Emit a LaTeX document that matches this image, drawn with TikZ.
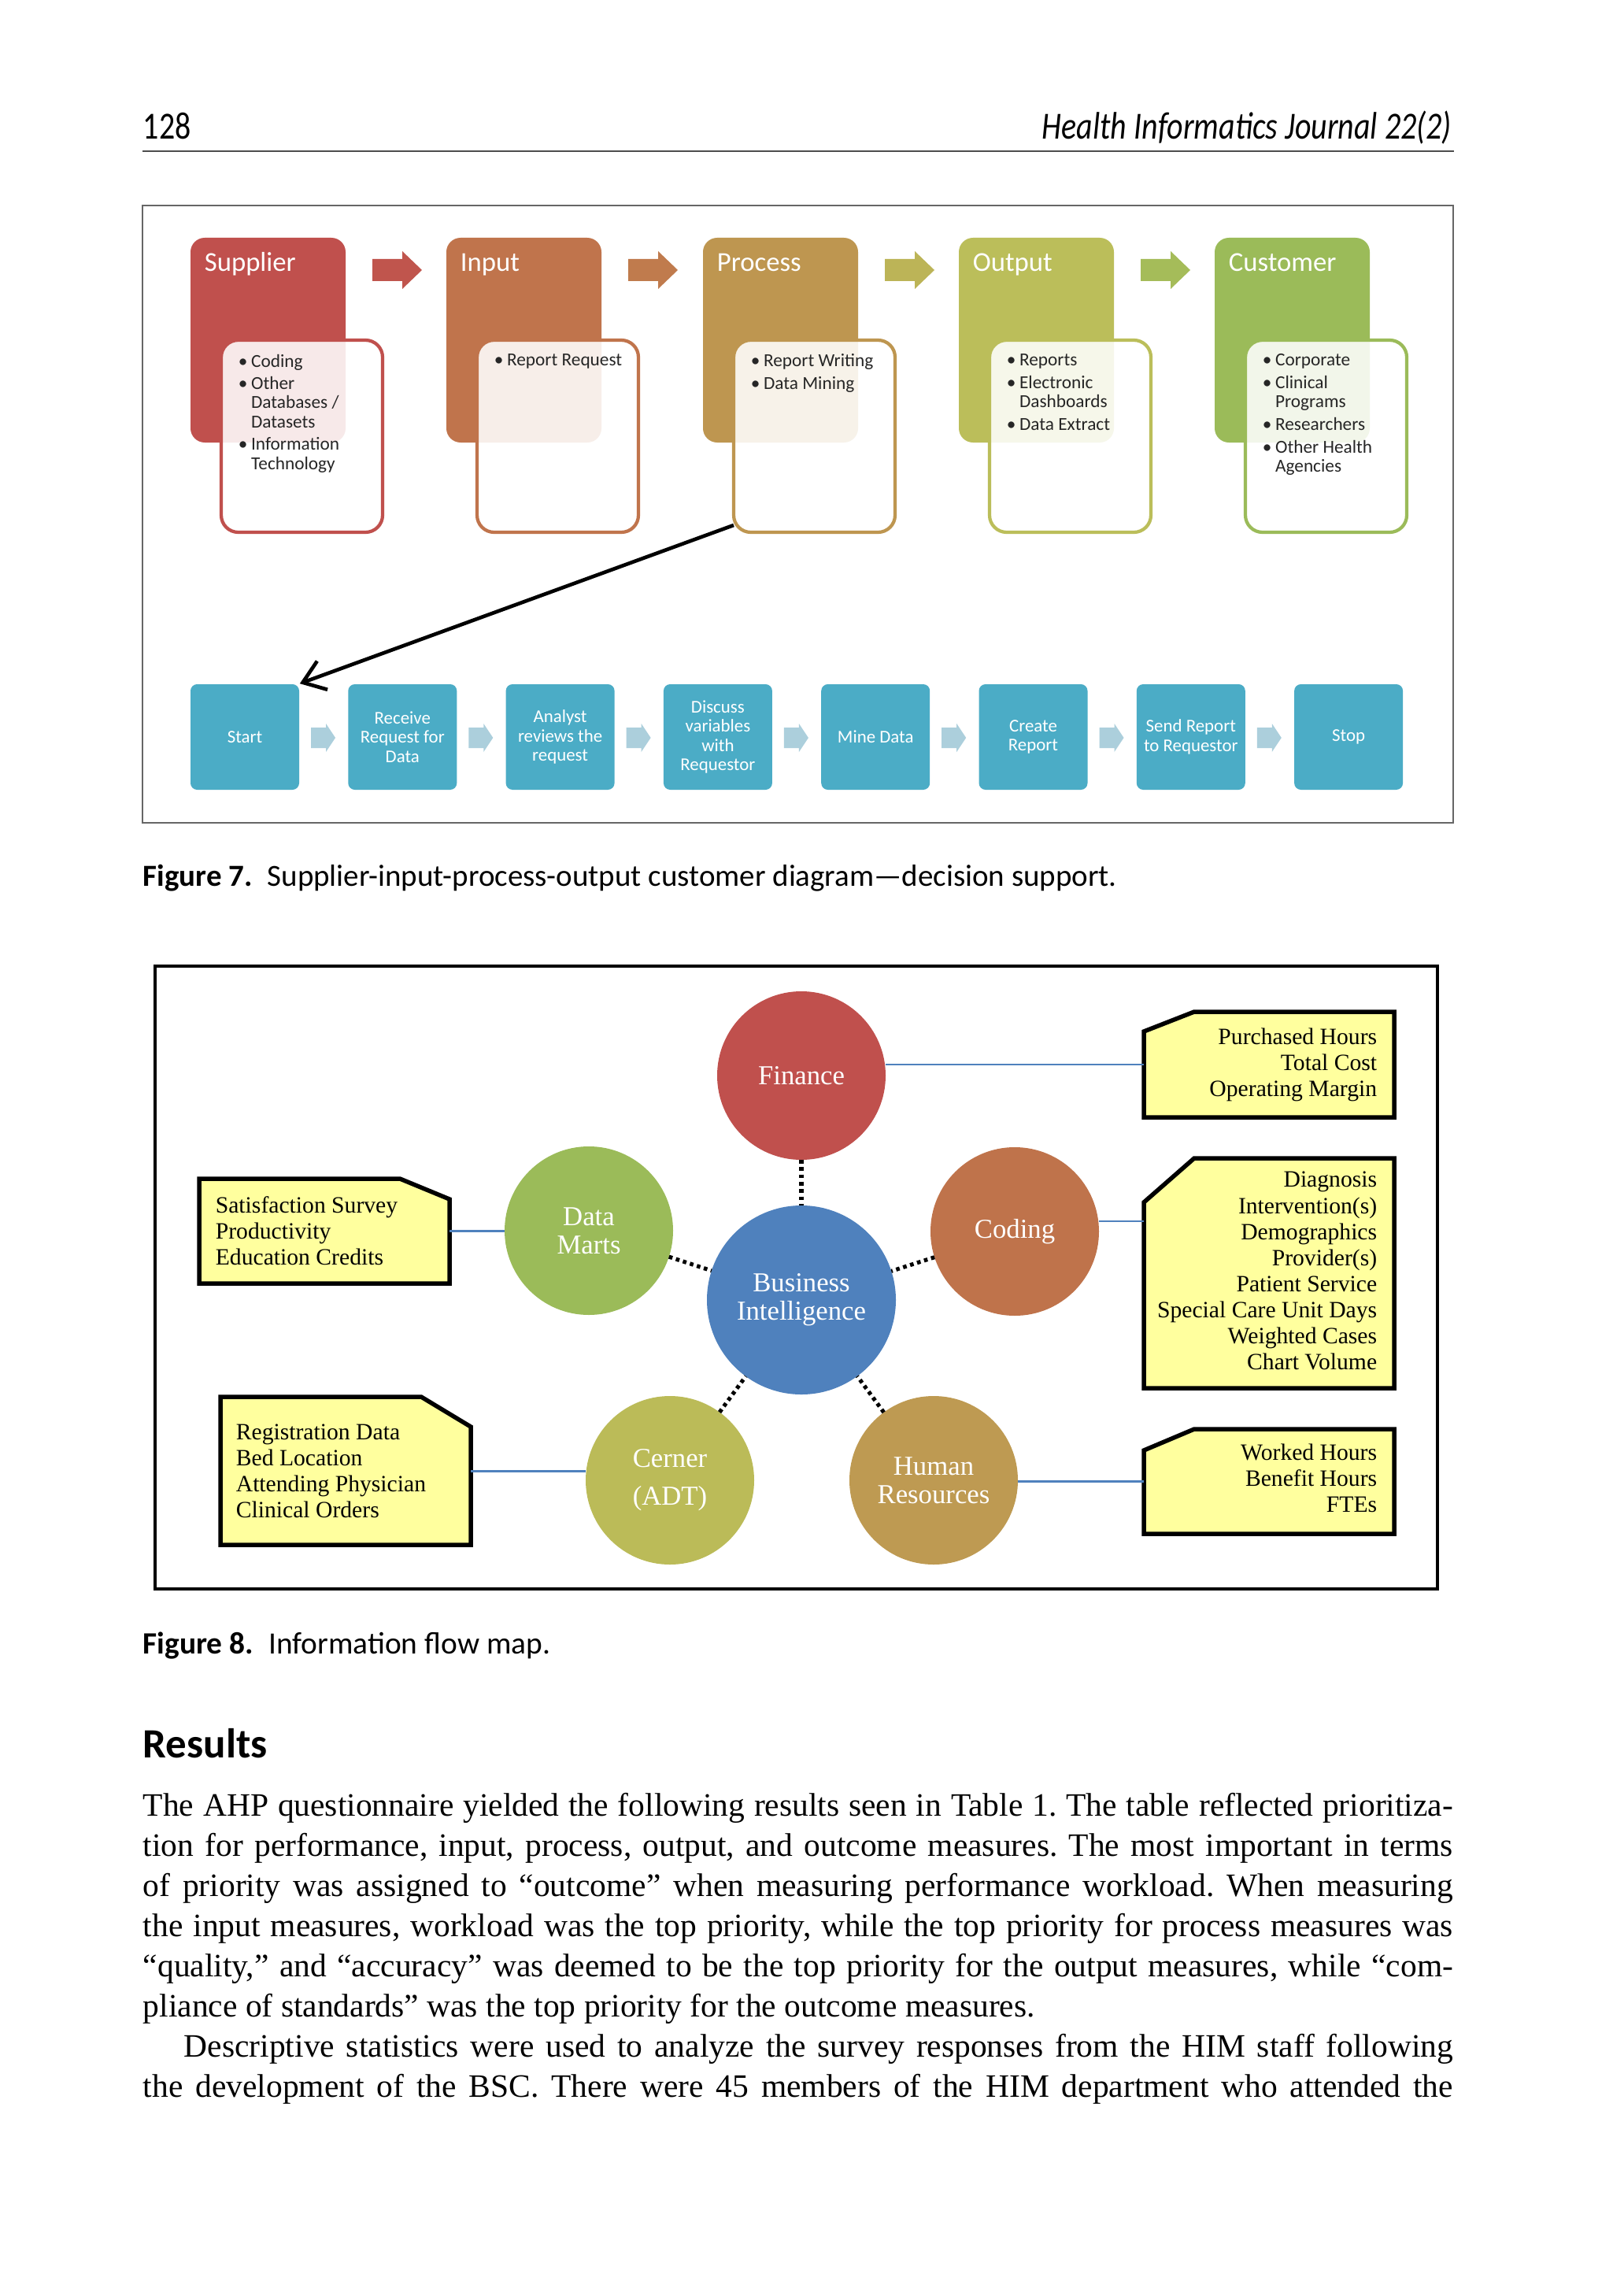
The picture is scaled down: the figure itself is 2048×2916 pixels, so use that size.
\documentclass[tikz,border=0pt]{standalone}
\usepackage{fontspec}
\setmainfont{Liberation Serif}
\newfontfamily\calfont{Carlito}
\newfontfamily\gill{Carlito}
\newfontfamily\gillc{Carlito}[FakeStretch=0.82]
\usetikzlibrary{arrows.meta}
\definecolor{csup}{HTML}{C0504D}
\definecolor{cinp}{HTML}{C0744C}
\definecolor{cpro}{HTML}{BE9650}
\definecolor{cout}{HTML}{BBBE5A}
\definecolor{ccus}{HTML}{9BBB59}
\definecolor{cteal}{HTML}{4BACC6}
\definecolor{sarrow}{HTML}{ACCFDC}
\definecolor{cfin}{HTML}{C0504D}
\definecolor{cdm}{HTML}{9BBB59}
\definecolor{ccod}{HTML}{BF734B}
\definecolor{cbi}{HTML}{4F81BD}
\definecolor{ccer}{HTML}{BBBB58}
\definecolor{chr}{HTML}{BE9A52}
\definecolor{yfill}{HTML}{FFFF9E}
\definecolor{blin}{HTML}{4F81BD}
\def\PX{0.083mm}
\newcommand\bul[1]{\makebox[1.35mm][l]{\textbullet}#1}
\newcommand\cont[1]{\hspace*{1.35mm}#1}
\frenchspacing
\begin{document}
\begin{tikzpicture}[x=0.083mm, y=-0.083mm,
  darkbox/.style={fill=#1, rounded corners=1.5mm, anchor=north west, minimum width=197*\PX, minimum height=260*\PX, inner sep=0, outer sep=0},
  whitebox/.style={draw=#1, line width=1pt, fill=white, fill opacity=0.88, rounded corners=1.8mm, anchor=north west, minimum width=205*\PX, minimum height=244*\PX, inner sep=0, outer sep=0},
  ftitle/.style={anchor=base west, inner sep=0, text=white, font=\calfont\fontsize{8.2}{9}\selectfont},
  blist/.style={anchor=north west, inner sep=0, align=left, text=black!85, font=\calfont\fontsize{5.5}{5.7}\selectfont},
  tbox/.style={fill=cteal, rounded corners=0.7mm, minimum width=138*\PX, minimum height=134*\PX, inner sep=0, text=white, align=center, font=\calfont\fontsize{5.4}{5.8}\selectfont},
  circ/.style={circle, fill=#1, minimum size=214*\PX, inner sep=0, outer sep=0, text=white, align=center, font=\fontsize{8.2}{8.4}\selectfont},
  yarea/.style={inner sep=0, outer sep=0},
  ybox/.style={fill=yfill, draw=black, line width=1.3pt, line join=miter},
  ytxt/.style={inner sep=0, font=\fontsize{7}{7.8}\selectfont},
  blue line/.style={draw=blin, line width=0.7pt},
  dotline/.style={draw=black, line width=1.2pt, dash pattern=on 1.1pt off 1.1pt},
  body/.style={anchor=base west, inner sep=0, font=\fontsize{9.8}{12}\selectfont}
]
\path[use as bounding box, fill=white] (0,0) rectangle (2048,2916);

% ---------- header ----------
\node[anchor=base west, inner sep=0, font=\gillc\fontsize{11.5}{12}\selectfont] (pg) at (181,177) {128};
\node[anchor=base east, inner sep=0, font=\gillc\itshape\fontsize{11.5}{12}\selectfont] (jn) at (1845,177) {Health Informatics Journal 22(2)};
\draw[line width=0.6pt, black!70] (181,192) -- (1847,192);

% ---------- Figure 7 ----------
\draw[line width=0.6pt, black!60] (181,261) rectangle (1846,1045);

\node[darkbox=csup] (sup) at (242,302) {};
\node[darkbox=cinp] (inp) at (567,302) {};
\node[darkbox=cpro] (pro) at (893,302) {};
\node[darkbox=cout] (out) at (1218,302) {};
\node[darkbox=ccus] (cus) at (1543,302) {};

\node[ftitle] (supt) at (259,345) {Supplier};
\node[ftitle] (inpt) at (584,345) {Input};
\node[ftitle] (prot) at (910,345) {Process};
\node[ftitle] (outt) at (1235,345) {Output};
\node[ftitle] (cust) at (1560,345) {Customer};

\node[whitebox=csup] (supw) at (281,432) {};
\node[whitebox=cinp] (inpw) at (606,432) {};
\node[whitebox=cpro] (prow) at (932,432) {};
\node[whitebox=cout] (outw) at (1257,432) {};
\node[whitebox=ccus] (cusw) at (1582,432) {};

\node[blist] (supl) at (302,449) {\bul{Coding}\\[1.1pt]\bul{Other}\\\cont{Databases /}\\\cont{Datasets}\\[1.1pt]\bul{Information}\\\cont{Technology}};
\node[blist] (inpl) at (627,449) {\bul{Report Request}};
\node[blist] (prol) at (953,449) {\bul{Report Writing}\\[1.1pt]\bul{Data Mining}};
\node[blist] (outl) at (1278,449) {\bul{Reports}\\[1.1pt]\bul{Electronic}\\\cont{Dashboards}\\[1.1pt]\bul{Data Extract}};
\node[blist] (cusl) at (1603,449) {\bul{Corporate}\\[1.1pt]\bul{Clinical}\\\cont{Programs}\\[1.1pt]\bul{Researchers}\\[1.1pt]\bul{Other Health}\\\cont{Agencies}};

% block arrows between the columns
\fill[csup!85!cinp] (473,329) -- ++(38,0) -- ++(0,-10) -- ++(25,24) -- ++(-25,24) -- ++(0,-10) -- ++(-38,0) -- cycle;
\fill[cinp!80!cpro] (798,329) -- ++(38,0) -- ++(0,-10) -- ++(25,24) -- ++(-25,24) -- ++(0,-10) -- ++(-38,0) -- cycle;
\fill[cpro!25!cout] (1124,329) -- ++(38,0) -- ++(0,-10) -- ++(25,24) -- ++(-25,24) -- ++(0,-10) -- ++(-38,0) -- cycle;
\fill[cout!30!ccus] (1449,329) -- ++(38,0) -- ++(0,-10) -- ++(25,24) -- ++(-25,24) -- ++(0,-10) -- ++(-38,0) -- cycle;

% process steps
\node[tbox] (t1) at (311,936) {Start};
\node[tbox] (t2) at (511.3,936) {Receive\\Request for\\Data};
\node[tbox] (t3) at (711.6,936) {Analyst\\reviews the\\request};
\node[tbox] (t4) at (911.9,936) {Discuss\\variables\\with\\Requestor};
\node[tbox] (t5) at (1112.2,936) {Mine Data};
\node[tbox] (t6) at (1312.5,936) {Create\\Report};
\node[tbox] (t7) at (1512.8,936) {Send Report\\to Requestor};
\node[tbox] (t8) at (1713.1,936) {Stop};
\foreach \i in {0,...,6}{
  \fill[sarrow] ({395+200.3*\i},924) -- ++(19,0) -- ++(0,-5) -- ++(12,18) -- ++(-12,18) -- ++(0,-5) -- ++(-19,0) -- cycle;
}

\draw[line width=1.1pt, -{Straight Barb[length=2.2mm, width=3.2mm, line width=1.1pt]}] ([yshift=9*\PX]prow.south west) -- (t1.north east);

\node[anchor=base west, inner sep=0, font=\gill\fontsize{9.2}{11}\selectfont] (cap7) at (181,1125) {{\bfseries Figure 7.}\hspace{4.5pt}Supplier-input-process-output customer diagram—decision support.};

% ---------- Figure 8 ----------
\draw[line width=0.8pt] (197,1227) rectangle (1826,2018);

\node[circ=cfin] (fin) at (1018,1366) {Finance};
\node[circ=cdm] (dm) at (748,1563) {Data\\Marts};
\node[circ=ccod] (cod) at (1289,1564) {Coding};
\node[circ=cbi, minimum size=240*\PX] (bi) at (1018,1651) {Business\\Intelligence};
\node[circ=ccer] (cer) at (851,1880) {Cerner\\[3pt](ADT)};
\node[circ=chr] (hr) at (1186,1880) {Human\\Resources};

\draw[dotline] (fin) -- (bi);
\draw[dotline] (dm) -- (bi);
\draw[dotline] (cod) -- (bi);
\draw[dotline] (cer) -- (bi);
\draw[dotline] (hr) -- (bi);

% yellow boxes (areas)
\node[yarea, minimum width=318*\PX, minimum height=134*\PX] (pbox) at (1612,1352) {};
\node[yarea, minimum width=318*\PX, minimum height=292*\PX] (dbox) at (1612,1617) {};
\node[yarea, minimum width=318*\PX, minimum height=133*\PX] (wbox) at (1612,1881.5) {};
\node[yarea, minimum width=318*\PX, minimum height=133*\PX] (sbox) at (412,1563.5) {};
\node[yarea, minimum width=318*\PX, minimum height=188*\PX] (rbox) at (439,1868) {};

\draw[ybox] ([yshift=-25*\PX]pbox.north west) -- ([xshift=64*\PX]pbox.north west) -- (pbox.north east) -- (pbox.south east) -- (pbox.south west) -- cycle;
\draw[ybox] ([yshift=-56*\PX]dbox.north west) -- ([xshift=64*\PX]dbox.north west) -- (dbox.north east) -- (dbox.south east) -- (dbox.south west) -- cycle;
\draw[ybox] ([yshift=-27*\PX]wbox.north west) -- ([xshift=64*\PX]wbox.north west) -- (wbox.north east) -- (wbox.south east) -- (wbox.south west) -- cycle;
\draw[ybox] (sbox.north west) -- ([xshift=-63*\PX]sbox.north east) -- ([yshift=-26*\PX]sbox.north east) -- (sbox.south east) -- (sbox.south west) -- cycle;
\draw[ybox] (rbox.north west) -- ([xshift=-63*\PX]rbox.north east) -- ([yshift=-38*\PX]rbox.north east) -- (rbox.south east) -- (rbox.south west) -- cycle;

\node[ytxt, anchor=east, align=right] (pboxt) at ([xshift=-21*\PX]pbox.east) {Purchased Hours\\Total Cost\\Operating Margin};
\node[ytxt, anchor=east, align=right] (dboxt) at ([xshift=-21*\PX, yshift=3*\PX]dbox.east) {Diagnosis\\Intervention(s)\\Demographics\\Provider(s)\\Patient Service\\Special Care Unit Days\\Weighted Cases\\Chart Volume};
\node[ytxt, anchor=east, align=right] (wboxt) at ([xshift=-21*\PX, yshift=4*\PX]wbox.east) {Worked Hours\\Benefit Hours\\FTEs};
\node[ytxt, anchor=west, align=left] (sboxt) at ([xshift=20*\PX]sbox.west) {Satisfaction Survey\\Productivity\\Education Credits};
\node[ytxt, anchor=west, align=left] (rboxt) at ([xshift=19*\PX]rbox.west) {Registration Data\\Bed Location\\Attending Physician\\Clinical Orders};

\draw[blue line] (pbox.west) -- (pbox.west -| fin.east);
\draw[blue line] ([yshift=13*\PX]cod.east) -- ([yshift=13*\PX]cod.east -| dbox.west);
\draw[blue line] (wbox.west) -- (wbox.west -| hr.east);
\draw[blue line] (sbox.east) -- (sbox.east -| dm.west);
\draw[blue line] (rbox.east) -- (rbox.east -| cer.west);

\node[anchor=base west, inner sep=0, font=\gill\fontsize{9.3}{11}\selectfont] (cap8) at (181,2100) {{\bfseries Figure 8.}\hspace{4.5pt}Information flow map.};

% ---------- Results ----------
\node[anchor=base west, inner sep=0, font=\gill\bfseries\fontsize{12.5}{14}\selectfont] (res) at (181,2232) {Results};

\node[body] (b1) at (181,2306) {\makebox[138.1mm][s]{The AHP questionnaire yielded the following results seen in Table 1. The table reflected prioritiza-}};
\node[body] (b2) at (181,2357) {\makebox[138.1mm][s]{tion for performance, input, process, output, and outcome measures. The most important in terms}};
\node[body] (b3) at (181,2408) {\makebox[138.1mm][s]{of priority was assigned to “outcome” when measuring performance workload. When measuring}};
\node[body] (b4) at (181,2459) {\makebox[138.1mm][s]{the input measures, workload was the top priority, while the top priority for process measures was}};
\node[body] (b5) at (181,2510) {\makebox[138.1mm][s]{“quality,” and “accuracy” was deemed to be the top priority for the output measures, while “com-}};
\node[body] (b6) at (181,2561) {pliance of standards” was the top priority for the outcome measures.};
\node[body] (b7) at (233,2612) {\makebox[133.8mm][s]{Descriptive statistics were used to analyze the survey responses from the HIM staff following}};
\node[body] (b8) at (181,2663) {\makebox[138.1mm][s]{the development of the BSC. There were 45 members of the HIM department who attended the}};
\end{tikzpicture}
\end{document}
